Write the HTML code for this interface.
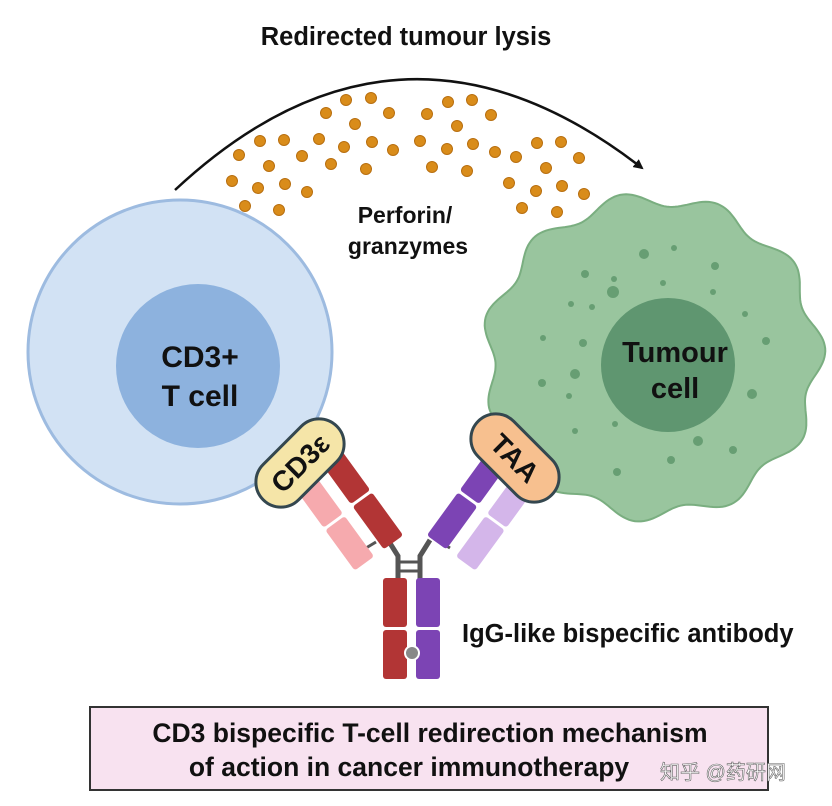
<!DOCTYPE html>
<html><head><meta charset="utf-8"><style>
body{margin:0;background:#fff;width:832px;height:806px;overflow:hidden}
svg{display:block}
text{font-family:"Liberation Sans",Arial,sans-serif;font-weight:bold;fill:#111}
</style></head><body>
<svg width="832" height="806" viewBox="0 0 832 806" xmlns="http://www.w3.org/2000/svg">
<defs><marker id="ah" markerWidth="10" markerHeight="10" refX="8" refY="5" orient="auto" markerUnits="userSpaceOnUse"><path d="M0,0 L10,5 L0,10 z" fill="#111"/></marker></defs>
<text x="406" y="45" font-size="25.5" text-anchor="middle">Redirected tumour lysis</text>
<path d="M175,190 Q400,-20 642,168" fill="none" stroke="#111" stroke-width="2.5" marker-end="url(#ah)"/>
<g id="dots" fill="#d98c1a" stroke="#b86f10" stroke-width="1"></g>
<text x="405" y="223" font-size="23" text-anchor="middle">Perforin/</text>
<text x="408" y="254" font-size="23" text-anchor="middle">granzymes</text>
<!-- T cell -->
<circle cx="180" cy="352" r="152" fill="#d2e2f4" stroke="#9dbbe0" stroke-width="3"/>
<circle cx="198" cy="366" r="82" fill="#8db2de"/>
<text x="200" y="367" font-size="30" text-anchor="middle">CD3+</text>
<text x="200" y="406" font-size="30" text-anchor="middle">T cell</text>
<!-- tumour -->
<path id="blob" fill="#99c59e" stroke="#7aae80" stroke-width="2"/>
<g id="tdots" fill="#679e73"></g>
<circle cx="668" cy="365" r="67" fill="#5f9670"/>
<text x="675" y="362" font-size="29" text-anchor="middle">Tumour</text>
<text x="675" y="398" font-size="29" text-anchor="middle">cell</text>
<!-- antibody hinge -->
<g stroke="#555" stroke-width="5" fill="none">
<path d="M388,540 L398,556 L398,582"/>
<path d="M430,540 L420,556 L420,582"/>
<line x1="398" y1="562" x2="420" y2="562" stroke-width="3"/>
<line x1="398" y1="571" x2="420" y2="571" stroke-width="3"/>
<line x1="366" y1="548" x2="376" y2="542" stroke-width="3"/>
<line x1="450" y1="548" x2="440" y2="542" stroke-width="3"/>
</g>
<g transform="translate(330,455) rotate(-36)">
<rect x="-12" y="0" width="24" height="52" rx="3" fill="#b23535"/>
<rect x="-12" y="55" width="24" height="53" rx="3" fill="#b23535"/>
<rect x="-48" y="5" width="24" height="50" rx="3" fill="#f6aaae"/>
<rect x="-48" y="58" width="24" height="50" rx="3" fill="#f6aaae"/>
</g>
<g transform="translate(500,455) rotate(36)">
<rect x="-12" y="0" width="24" height="52" rx="3" fill="#7c44b4"/>
<rect x="-12" y="55" width="24" height="53" rx="3" fill="#7c44b4"/>
<rect x="24" y="5" width="24" height="50" rx="3" fill="#d4b6ea"/>
<rect x="24" y="58" width="24" height="50" rx="3" fill="#d4b6ea"/>
</g>
<rect x="383" y="578" width="24" height="49" rx="3" fill="#b23535"/>
<rect x="383" y="630" width="24" height="49" rx="3" fill="#b23535"/>
<rect x="416" y="578" width="24" height="49" rx="3" fill="#7c44b4"/>
<rect x="416" y="630" width="24" height="49" rx="3" fill="#7c44b4"/>
<circle cx="412" cy="653" r="7" fill="#888" stroke="#fff" stroke-width="2"/>
<g transform="translate(300,463) rotate(-45)">
<rect x="-52" y="-25" width="104" height="50" rx="25" fill="#f5e5a8" stroke="#34474f" stroke-width="3"/>
<text x="0" y="10" font-size="28" text-anchor="middle">CD3ε</text>
</g>
<g transform="translate(515,458) rotate(45)">
<rect x="-52" y="-25" width="104" height="50" rx="25" fill="#f7c08f" stroke="#34474f" stroke-width="3"/>
<text x="0" y="10" font-size="28" text-anchor="middle">TAA</text>
</g>
<text x="462" y="642" font-size="25.5">IgG-like bispecific antibody</text>
<rect x="90" y="707" width="678" height="83" fill="#f8e2f0" stroke="#333" stroke-width="2"/>
<text x="430" y="742" font-size="26.5" text-anchor="middle">CD3 bispecific T-cell redirection mechanism</text>
<text x="409" y="776" font-size="26.5" text-anchor="middle">of action in cancer immunotherapy</text>
<text x="660" y="779" font-size="20" style="fill:#fff;font-weight:normal;font-family:'Liberation Sans','Noto Sans CJK SC',sans-serif" stroke="#666" stroke-width="0.6">知乎 @药研网</text>
</svg>
<script>
var d=[[346,100],[371,98],[326,113],[389,113],[355,124],[448,102],[472,100],[427,114],[491,115],[457,126],[260,141],[284,140],[319,139],[344,147],[372,142],[393,150],[420,141],[447,149],[473,144],[495,152],[516,157],[537,143],[561,142],[579,158],[239,155],[269,166],[302,156],[331,164],[366,169],[432,167],[467,171],[546,168],[232,181],[258,188],[285,184],[307,192],[509,183],[536,191],[562,186],[584,194],[245,206],[279,210],[522,208],[557,212]];
var g=document.getElementById('dots'),ns='http://www.w3.org/2000/svg';
d.forEach(function(p){var c=document.createElementNS(ns,'circle');c.setAttribute('cx',p[0]);c.setAttribute('cy',p[1]);c.setAttribute('r',5.5);g.appendChild(c);});
var s='',cx=653,cy=357;
for(var i=0;i<=360;i++){var a=i*Math.PI/180,r=1+0.045*Math.cos(11*a+0.5);var x=cx+165*r*Math.cos(a),y=cy+158*r*Math.sin(a);s+=(i?'L':'M')+x.toFixed(1)+','+y.toFixed(1);}
document.getElementById('blob').setAttribute('d',s+'Z');
var t=[[644,254,5],[674,248,3],[585,274,4],[715,266,4],[613,292,6],[614,279,3],[663,283,3],[713,292,3],[571,304,3],[592,307,3],[745,314,3],[543,338,3],[583,343,4],[766,341,4],[575,374,5],[542,383,4],[569,396,3],[752,394,5],[575,431,3],[615,424,3],[698,441,5],[733,450,4],[617,472,4],[671,460,4]];
var tg=document.getElementById('tdots');
t.forEach(function(p){var c=document.createElementNS(ns,'circle');c.setAttribute('cx',p[0]);c.setAttribute('cy',p[1]);c.setAttribute('r',p[2]);tg.appendChild(c);});
</script>
</body></html>
